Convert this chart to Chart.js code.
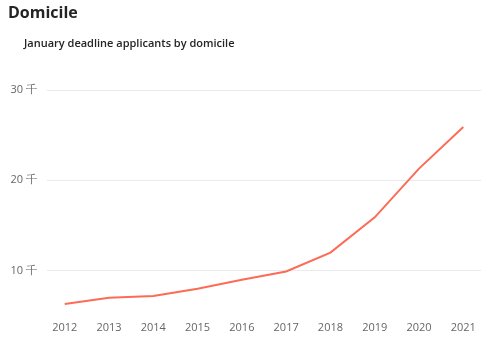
<!DOCTYPE html>
<html>
<head>
<meta charset="utf-8">
<script src="https://cdn.jsdelivr.net/npm/chart.js@4"></script>
<style>
  body { margin: 0; background: #fff; font-family: "Open Sans", sans-serif; }
  #wrap { position: relative; width: 491px; height: 349px; }
  #title { position: absolute; left: 8px; top: 1px; font-size: 16px; font-weight: 700; color: #252423; }
  #subtitle { position: absolute; left: 24px; top: 35px; font-size: 11px; font-weight: 600; color: #252423; }
  #box { position: absolute; left: 0; top: 0; width: 491px; height: 349px; }
</style>
</head>
<body>
<div id="wrap">
  <div id="box"><canvas id="chart"></canvas></div>
  <div id="title">Domicile</div>
  <div id="subtitle">January deadline applicants by domicile</div>
</div>
<script>
// applicants per year, January deadline
const years = [2012, 2013, 2014, 2015, 2016, 2017, 2018, 2019, 2020, 2021];
const applicants = [6300, 7000, 7200, 8000, 9000, 9900, 12000, 15900, 21300, 25900];
const yTicks = [10000, 20000, 30000];
const yTickLabels = ["10 千", "20 千", "30 千"];

const ctx = document.getElementById("chart").getContext("2d");
new Chart(ctx, {
    type: "line",
    data: {
        datasets: [{
            data: years.map((y, i) => ({ x: y, y: applicants[i] })),
            borderColor: "#fd6b55",
            borderWidth: 2,
            pointRadius: 0,
            tension: 0,
            fill: false
        }]
    },
    options: {
        responsive: true,
        maintainAspectRatio: false,
        animation: false,
        layout: { padding: { left: 8, right: 10, top: 90, bottom: 10 } },
        plugins: { legend: { display: false }, tooltip: { enabled: false } },
        scales: {
            x: {
                type: "linear",
                min: 2011.6,
                max: 2021.4,
                afterBuildTicks: s => { s.ticks = years.map(v => ({ value: v })); },
                grid: { display: false, drawTicks: false },
                border: { display: false },
                ticks: {
                    padding: 5,
                    color: "#666",
                    font: { family: "Open Sans", size: 11 },
                    callback: v => String(v)
                }
            },
            y: {
                min: 5000,
                max: 30000,
                afterBuildTicks: s => { s.ticks = yTicks.map(v => ({ value: v })); },
                afterFit: s => { s.width = 39; },
                grid: { color: "#ebebeb", drawTicks: false },
                border: { display: false },
                ticks: {
                    padding: 10,
                    color: "#666",
                    font: { family: "Open Sans", size: 11 },
                    callback: v => yTickLabels[yTicks.indexOf(v)]
                }
            }
        }
    }
});
</script>
</body>
</html>
